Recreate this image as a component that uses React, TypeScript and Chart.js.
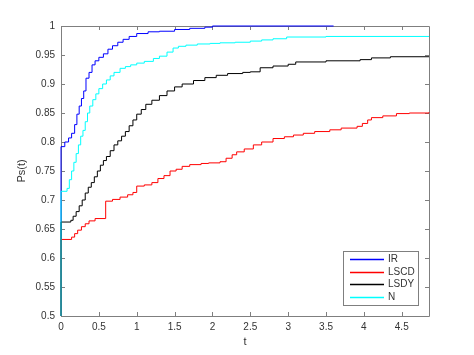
import React, { useEffect, useRef } from "react";
import { Chart, registerables } from "chart.js";

Chart.register(...registerables);

// ---- data ----
const IR_T = [0, 0, 0.05, 0.1, 0.14, 0.18, 0.21, 0.24, 0.27, 0.3, 0.33, 0.37, 0.41, 0.45, 0.5, 0.56, 0.62, 0.68, 0.75, 0.82, 0.9, 1.0, 1.15, 1.3, 1.5, 1.7, 1.9, 2.0, 3.6];
const IR_P = [0.5, 0.792, 0.8, 0.807, 0.815, 0.83, 0.848, 0.862, 0.875, 0.888, 0.91, 0.92, 0.933, 0.94, 0.946, 0.952, 0.96, 0.966, 0.972, 0.977, 0.982, 0.987, 0.99, 0.991, 0.994, 0.996, 0.998, 1.0, 1.0];

const LSCD_T = [0, 0, 0.14, 0.18, 0.22, 0.27, 0.32, 0.37, 0.45, 0.59, 0.68, 0.78, 0.88, 0.95, 1.0, 1.1, 1.2, 1.28, 1.36, 1.44, 1.52, 1.6, 1.7, 1.85, 1.95, 2.1, 2.18, 2.26, 2.32, 2.42, 2.54, 2.65, 2.8, 2.95, 3.07, 3.2, 3.35, 3.55, 3.7, 3.91, 3.98, 4.05, 4.1, 4.25, 4.43, 4.6, 4.86];
const LSCD_P = [0.5, 0.632, 0.636, 0.642, 0.648, 0.654, 0.659, 0.664, 0.668, 0.698, 0.701, 0.705, 0.709, 0.713, 0.724, 0.726, 0.73, 0.737, 0.742, 0.75, 0.753, 0.758, 0.761, 0.763, 0.764, 0.766, 0.772, 0.778, 0.783, 0.788, 0.795, 0.8, 0.806, 0.809, 0.812, 0.815, 0.818, 0.821, 0.824, 0.827, 0.832, 0.838, 0.842, 0.845, 0.849, 0.85, 0.851];

const LSDY_T = [0, 0, 0.13, 0.16, 0.2, 0.24, 0.28, 0.32, 0.36, 0.4, 0.44, 0.48, 0.52, 0.56, 0.6, 0.65, 0.7, 0.75, 0.8, 0.85, 0.9, 0.95, 1.0, 1.06, 1.12, 1.2, 1.3, 1.4, 1.5, 1.6, 1.75, 1.9, 2.05, 2.2, 2.4, 2.5, 2.63, 2.8, 3.0, 3.1, 3.5, 3.95, 4.1, 4.35, 4.86];
const LSDY_P = [0.5, 0.662, 0.665, 0.672, 0.68, 0.69, 0.7, 0.712, 0.722, 0.73, 0.74, 0.75, 0.76, 0.768, 0.775, 0.785, 0.795, 0.802, 0.81, 0.818, 0.828, 0.838, 0.848, 0.856, 0.865, 0.872, 0.88, 0.888, 0.895, 0.9, 0.906, 0.911, 0.915, 0.918, 0.92, 0.921, 0.928, 0.931, 0.934, 0.938, 0.94, 0.942, 0.945, 0.947, 0.947];

const N_T = [0, 0, 0.08, 0.11, 0.14, 0.17, 0.2, 0.23, 0.26, 0.29, 0.32, 0.35, 0.38, 0.42, 0.46, 0.5, 0.55, 0.6, 0.65, 0.7, 0.78, 0.85, 0.92, 1.0, 1.1, 1.22, 1.3, 1.4, 1.48, 1.55, 1.65, 1.8, 1.97, 2.1, 2.3, 2.5, 2.65, 2.8, 2.98, 3.5, 4.86];
const N_P = [0.5, 0.715, 0.72, 0.735, 0.75, 0.765, 0.78, 0.795, 0.81, 0.82, 0.835, 0.85, 0.862, 0.873, 0.883, 0.892, 0.9, 0.907, 0.914, 0.92, 0.927, 0.93, 0.933, 0.936, 0.939, 0.944, 0.948, 0.955, 0.962, 0.965, 0.967, 0.969, 0.97, 0.971, 0.972, 0.974, 0.976, 0.978, 0.981, 0.982, 0.982];

const SERIES_NAMES = ["IR", "LSCD", "LSDY", "N"];
const SERIES_COLORS = ["#0000ff", "#ff0000", "#000000", "#00ffff"];
const T_TICKS = [0, 0.5, 1, 1.5, 2, 2.5, 3, 3.5, 4, 4.5];
const PS_TICKS = [0.5, 0.55, 0.6, 0.65, 0.7, 0.75, 0.8, 0.85, 0.9, 0.95, 1];
const T_MIN = 0;
const T_MAX = 4.86;
const PS_MIN = 0.5;
const PS_MAX = 1;
const X_TITLE = "t";
const Y_TITLE = "Ps(t)";

const FONT = "'Liberation Sans', Arial, sans-serif";
const AXIS_COLOR = "#7f7f7f";
const TEXT_COLOR = "#333333";

function pts(xs: number[], ys: number[]) {
  return xs.map((x, i) => ({ x, y: ys[i] }));
}

const fmt = (v: number) => String(Number(v.toFixed(2)));

const framePlugin = {
  id: "matlabFrame",
  beforeDatasetsDraw(chart: any) {
    const { ctx, chartArea: a, scales } = chart;
    ctx.save();
    ctx.strokeStyle = AXIS_COLOR;
    ctx.lineWidth = 1;
    ctx.beginPath();
    ctx.rect(Math.round(a.left) + 0.5, Math.round(a.top) + 0.5, Math.round(a.right - a.left), Math.round(a.bottom - a.top));
    ctx.stroke();
    const tl = 4;
    ctx.beginPath();
    T_TICKS.forEach((v) => {
      const x = Math.round(scales.x.getPixelForValue(v)) + 0.5;
      ctx.moveTo(x, a.bottom);
      ctx.lineTo(x, a.bottom - tl);
      ctx.moveTo(x, a.top);
      ctx.lineTo(x, a.top + tl);
    });
    PS_TICKS.forEach((v) => {
      const y = Math.round(scales.y.getPixelForValue(v)) + 0.5;
      ctx.moveTo(a.left, y);
      ctx.lineTo(a.left + tl, y);
      ctx.moveTo(a.right, y);
      ctx.lineTo(a.right - tl, y);
    });
    ctx.stroke();

    // axis titles
    ctx.fillStyle = TEXT_COLOR;
    ctx.font = `11px ${FONT}`;
    ctx.textAlign = "center";
    ctx.textBaseline = "middle";
    ctx.fillText(X_TITLE, (a.left + a.right) / 2, 342);
    ctx.save();
    ctx.translate(22, (a.top + a.bottom) / 2);
    ctx.rotate(-Math.PI / 2);
    ctx.fillText(Y_TITLE, 0, 0);
    ctx.restore();
    ctx.restore();
  },
  afterDatasetsDraw(chart: any) {
    const { ctx } = chart;
    ctx.save();
    // legend
    const lx = 343, ly = 251, lw = 75, lh = 54;
    ctx.fillStyle = "#ffffff";
    ctx.fillRect(lx, ly, lw, lh);
    ctx.strokeStyle = AXIS_COLOR;
    ctx.lineWidth = 1;
    ctx.strokeRect(lx + 0.5, ly + 0.5, lw, lh);
    ctx.font = `10px ${FONT}`;
    ctx.textAlign = "left";
    ctx.textBaseline = "middle";
    SERIES_NAMES.forEach((name, i) => {
      const y = Math.round(259 + i * 12.5) + 0.5;
      ctx.strokeStyle = SERIES_COLORS[i];
      ctx.lineWidth = 1.3;
      ctx.beginPath();
      ctx.moveTo(350, y);
      ctx.lineTo(384, y);
      ctx.stroke();
      ctx.fillStyle = TEXT_COLOR;
      ctx.fillText(name, 388, y);
    });
    ctx.restore();
  },
};

export default function App() {
  const ref = useRef<HTMLCanvasElement | null>(null);

  useEffect(() => {
    document.body.style.margin = "0";
    const series = [pts(IR_T, IR_P), pts(LSCD_T, LSCD_P), pts(LSDY_T, LSDY_P), pts(N_T, N_P)];
    const chart = new Chart(ref.current as HTMLCanvasElement, {
      type: "line",
      data: {
        datasets: series.map((d, i) => ({
          label: SERIES_NAMES[i],
          data: d,
          borderColor: SERIES_COLORS[i],
          backgroundColor: SERIES_COLORS[i],
          borderWidth: 1,
          pointRadius: 0,
          stepped: true,
          fill: false,
          clip: false,
          order: 3 - i,
        })),
      },
      options: {
        responsive: false,
        animation: false,
        events: [],
        layout: { padding: { left: 0, top: 26, right: 45, bottom: 0 } },
        plugins: { legend: { display: false }, tooltip: { enabled: false }, title: { display: false } },
        scales: {
          x: {
            type: "linear",
            min: T_MIN,
            max: T_MAX,
            grid: { display: false, drawTicks: false },
            border: { display: false },
            afterBuildTicks: (s: any) => {
              s.ticks = T_TICKS.map((v) => ({ value: v }));
            },
            afterFit: (s: any) => {
              s.height = 39;
            },
            ticks: {
              color: TEXT_COLOR,
              font: { family: FONT, size: 10 },
              padding: 5,
              maxRotation: 0,
              autoSkip: false,
              callback: (v: any) => fmt(Number(v)),
            },
          },
          y: {
            type: "linear",
            min: PS_MIN,
            max: PS_MAX,
            grid: { display: false, drawTicks: false },
            border: { display: false },
            afterBuildTicks: (s: any) => {
              s.ticks = PS_TICKS.map((v) => ({ value: v }));
            },
            afterFit: (s: any) => {
              s.width = 61;
            },
            ticks: {
              color: TEXT_COLOR,
              font: { family: FONT, size: 10 },
              padding: 6,
              autoSkip: false,
              callback: (v: any) => fmt(Number(v)),
            },
          },
        },
      },
      plugins: [framePlugin],
    });
    return () => chart.destroy();
  }, []);

  return (
    <div style={{ position: "absolute", left: 0, top: 0, width: 474, height: 355, background: "#fff" }}>
      <canvas ref={ref} width={474} height={355} />
    </div>
  );
}
